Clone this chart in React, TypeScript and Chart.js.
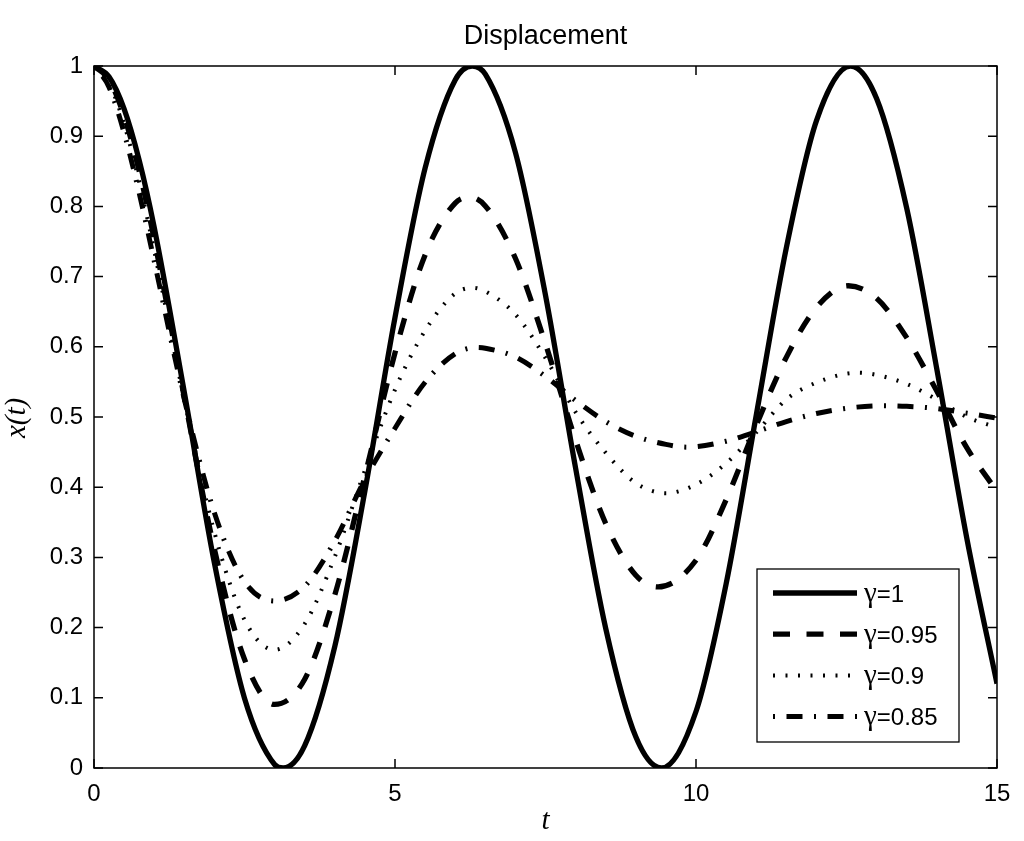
import { useEffect, useRef } from "react";
import { Chart, registerables } from "chart.js";

Chart.register(...registerables);

// ---------- data ----------
const TITLE = "Displacement";
const X_LABEL = "t";
const Y_LABEL = "x(t)";

const xTicks = [0, 5, 10, 15];
const xTickLabels = ["0", "5", "10", "15"];
const yTicks = [0, 0.1, 0.2, 0.3, 0.4, 0.5, 0.6, 0.7, 0.8, 0.9, 1];
const yTickLabels = ["0", "0.1", "0.2", "0.3", "0.4", "0.5", "0.6", "0.7", "0.8", "0.9", "1"];

const seriesGreek = ["γ", "γ", "γ", "γ"];
const seriesValueText = ["=1", "=0.95", "=0.9", "=0.85"];

// gamma = 1
const tG100 = [0, 0.25, 0.5, 0.75, 1, 1.5, 2, 2.5, 3, 3.1416, 3.5, 4, 4.5, 5, 5.5, 6, 6.2832, 6.5, 7, 7.5, 8, 8.5, 9, 9.4248, 10, 10.5, 11, 11.5, 12, 12.5664, 13, 13.5, 14, 14.5, 15];
const xG100 = [1, 0.9845, 0.9388, 0.8658, 0.7702, 0.5354, 0.2919, 0.0994, 0.005, 0, 0.0318, 0.1732, 0.3946, 0.6418, 0.8544, 0.9801, 1, 0.9883, 0.877, 0.6733, 0.4272, 0.199, 0.0444, 0, 0.0805, 0.2622, 0.5022, 0.7408, 0.9219, 1, 0.9537, 0.7975, 0.5684, 0.3267, 0.1202];

// gamma = 0.95
const tG095 = [0, 0.25, 0.5, 0.75, 1, 1.5, 2, 2.5, 3, 3.5, 4, 4.5, 5, 5.5, 6, 6.25, 6.5, 7, 7.5, 8, 8.5, 9, 9.37, 10, 10.5, 11, 11.5, 12, 12.53, 13, 13.5, 14, 14.5, 15];
const xG095 = [1, 0.9805, 0.9287, 0.8508, 0.7532, 0.5281, 0.3117, 0.1549, 0.0905, 0.1265, 0.2466, 0.4161, 0.5913, 0.7309, 0.8047, 0.813, 0.8007, 0.7261, 0.6041, 0.467, 0.3483, 0.2745, 0.258, 0.296, 0.382, 0.488, 0.585, 0.656, 0.687, 0.669, 0.613, 0.537, 0.456, 0.394];

// gamma = 0.9
const tG090 = [0, 0.25, 0.5, 0.75, 1, 1.5, 2, 2.5, 3, 3.5, 4, 4.5, 5, 5.5, 6, 6.3, 6.5, 7, 7.5, 8, 8.5, 9, 9.5, 10, 10.5, 11, 11.5, 12, 12.7, 13, 13.5, 14, 14.5, 15];
const xG090 = [1, 0.9757, 0.9174, 0.8351, 0.7371, 0.5247, 0.3359, 0.2109, 0.1684, 0.2054, 0.301, 0.424, 0.539, 0.623, 0.676, 0.684, 0.679, 0.646, 0.584, 0.507, 0.449, 0.406, 0.3915, 0.404, 0.434, 0.478, 0.525, 0.549, 0.563, 0.56, 0.547, 0.525, 0.5, 0.485];

// gamma = 0.85
const tG085 = [0, 0.25, 0.5, 0.75, 1, 1.5, 2, 2.5, 3, 3.5, 4, 4.5, 5, 5.5, 6, 6.35, 6.5, 7, 7.5, 8, 8.5, 9, 9.5, 9.85, 10.5, 11, 11.5, 12, 12.5, 13.1, 13.5, 14, 14.5, 15];
const xG085 = [1, 0.9698, 0.9049, 0.8193, 0.7223, 0.5254, 0.3637, 0.2655, 0.238, 0.259, 0.3236, 0.411, 0.484, 0.5495, 0.59, 0.599, 0.598, 0.5855, 0.5577, 0.5235, 0.4935, 0.4725, 0.461, 0.457, 0.4655, 0.479, 0.4935, 0.505, 0.5125, 0.516, 0.5152, 0.512, 0.5055, 0.4985];

// ---------- styles ----------
const SANS = '"Liberation Sans", Arial, Helvetica, sans-serif';
const SERIF = '"Liberation Serif", "Times New Roman", serif';

const styles = [
  { width: 5.3, dash: [] as number[] },
  { width: 5.3, dash: [17, 16.5] },
  { width: 4, dash: [2, 10.5] },
  { width: 5, dash: [2, 11.5, 16, 11.5] },
];

function pts(t: number[], v: number[]) {
  return t.map((x, i) => ({ x, y: v[i] }));
}

const framePlugin = {
  id: "matlabFrame",
  afterDatasetsDraw(chart: any) {
    const { ctx, chartArea: a, scales } = chart;
    const xs = scales.x;
    const ys = scales.y;
    ctx.save();
    ctx.setLineDash([]);
    ctx.strokeStyle = "#000";
    ctx.lineWidth = 1.5;
    ctx.strokeRect(a.left, a.top, a.right - a.left, a.bottom - a.top);

    // inward ticks on all four sides
    const L = 9;
    ctx.beginPath();
    xs.ticks.forEach((tk: any) => {
      const px = xs.getPixelForValue(tk.value);
      ctx.moveTo(px, a.bottom);
      ctx.lineTo(px, a.bottom - L);
      ctx.moveTo(px, a.top);
      ctx.lineTo(px, a.top + L);
    });
    ys.ticks.forEach((tk: any) => {
      const py = ys.getPixelForValue(tk.value);
      ctx.moveTo(a.left, py);
      ctx.lineTo(a.left + L, py);
      ctx.moveTo(a.right, py);
      ctx.lineTo(a.right - L, py);
    });
    ctx.stroke();

    const cx = (a.left + a.right) / 2;
    const cy = (a.top + a.bottom) / 2;

    // title
    ctx.fillStyle = "#000";
    ctx.font = `27px ${SANS}`;
    ctx.textAlign = "center";
    ctx.textBaseline = "alphabetic";
    ctx.fillText(TITLE, cx, a.top - 22.5);

    // x label
    ctx.font = `italic 29px ${SERIF}`;
    ctx.textBaseline = "middle";
    ctx.fillText(X_LABEL, cx, a.bottom + 53);

    // y label
    ctx.save();
    ctx.translate(17, cy + 1);
    ctx.rotate(-Math.PI / 2);
    ctx.font = `italic 29px ${SERIF}`;
    ctx.textAlign = "center";
    ctx.textBaseline = "middle";
    ctx.fillText(Y_LABEL, 0, 0);
    ctx.restore();

    // legend
    const bl = a.right - 240;
    const br = a.right - 38;
    const bt = a.bottom - 199;
    const bb = a.bottom - 26;
    ctx.fillStyle = "#fff";
    ctx.fillRect(bl, bt, br - bl, bb - bt);
    ctx.lineWidth = 1.3;
    ctx.strokeStyle = "#000";
    ctx.strokeRect(bl, bt, br - bl, bb - bt);

    chart.data.datasets.forEach((ds: any, i: number) => {
      const ry = bt + 24 + i * 41.2;
      ctx.save();
      ctx.beginPath();
      ctx.lineWidth = ds.borderWidth;
      ctx.setLineDash(ds.borderDash || []);
      ctx.lineDashOffset = 0;
      ctx.strokeStyle = ds.borderColor;
      ctx.moveTo(bl + 16, ry);
      ctx.lineTo(bl + 100, ry);
      ctx.stroke();
      ctx.restore();

      ctx.fillStyle = "#000";
      ctx.textAlign = "left";
      ctx.textBaseline = "middle";
      ctx.font = `29px ${SERIF}`;
      const gx = bl + 107;
      ctx.fillText(seriesGreek[i], gx, ry + 1);
      const gw = ctx.measureText(seriesGreek[i]).width;
      ctx.font = `24px ${SANS}`;
      ctx.fillText(seriesValueText[i], gx + gw, ry + 2);
    });

    ctx.restore();
  },
};

export default function App() {
  const ref = useRef<HTMLCanvasElement | null>(null);

  useEffect(() => {
    if (!ref.current) return;
    const series = [
      pts(tG100, xG100),
      pts(tG095, xG095),
      pts(tG090, xG090),
      pts(tG085, xG085),
    ];
    const chart = new Chart(ref.current, {
      type: "line",
      data: {
        datasets: series.map((d, i) => ({
          label: seriesGreek[i] + seriesValueText[i],
          data: d,
          borderColor: "#000",
          backgroundColor: "#000",
          borderWidth: styles[i].width,
          borderDash: styles[i].dash,
          borderCapStyle: "butt",
          borderJoinStyle: "round",
          pointRadius: 0,
          pointHoverRadius: 0,
          fill: false,
          cubicInterpolationMode: "monotone",
        })),
      },
      options: {
        animation: false,
        responsive: false,
        devicePixelRatio: 1,
        layout: { padding: { left: 0, top: 66, right: 27, bottom: 0 } },
        plugins: {
          legend: { display: false },
          tooltip: { enabled: false },
          title: { display: false },
        },
        events: [],
        scales: {
          x: {
            type: "linear",
            min: 0,
            max: 15,
            grid: { display: false, drawTicks: false },
            border: { display: false },
            afterFit: (s: any) => {
              s.height = 73;
            },
            afterBuildTicks: (s: any) => {
              s.ticks = xTicks.map((v) => ({ value: v }));
            },
            ticks: {
              padding: 12,
              color: "#000",
              font: { family: SANS, size: 24, lineHeight: 1.2 },
              maxRotation: 0,
              autoSkip: false,
              callback: (_v: any, i: number) => xTickLabels[i],
            },
          },
          y: {
            type: "linear",
            min: 0,
            max: 1,
            grid: { display: false, drawTicks: false },
            border: { display: false },
            afterFit: (s: any) => {
              s.width = 94;
            },
            afterBuildTicks: (s: any) => {
              s.ticks = yTicks.map((v) => ({ value: v }));
            },
            ticks: {
              padding: 11,
              color: "#000",
              font: { family: SANS, size: 24 },
              autoSkip: false,
              callback: (_v: any, i: number) => yTickLabels[i],
            },
          },
        },
      },
      plugins: [framePlugin],
    } as any);
    return () => chart.destroy();
  }, []);

  return (
    <div style={{ position: "fixed", left: 0, top: 0, width: 1024, height: 841, background: "#fff" }}>
      <canvas ref={ref} width={1024} height={841} style={{ width: 1024, height: 841, display: "block" }} />
    </div>
  );
}
